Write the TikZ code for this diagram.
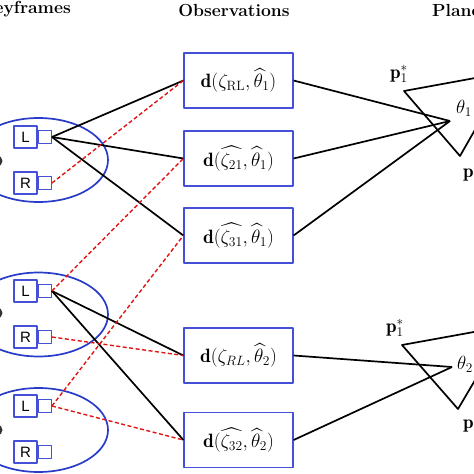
\documentclass[tikz,border=0pt]{standalone}
\usepackage{fix-cm}
\usepackage{amsmath}
\usepackage{fontspec}
\newfontfamily\camfont{Liberation Sans}
\usetikzlibrary{shapes.geometric,positioning}

\definecolor{kfblue}{RGB}{40,60,200}
\definecolor{boxblue}{RGB}{70,80,215}
\definecolor{matchred}{RGB}{225,20,20}

\begin{document}
\begin{tikzpicture}[x=1pt, y=-1pt, line join=round,
    head/.style={font=\fontsize{17.5}{20}\selectfont\bfseries, inner sep=0pt},
    kf/.style={draw=kfblue, line width=1.7pt, ellipse, minimum width=139pt, minimum height=84pt, inner sep=0pt},
    cam/.style={draw=boxblue, line width=1.3pt, minimum width=23pt, minimum height=22pt, inner sep=0pt, font=\camfont\fontsize{15}{15}\selectfont},
    lens/.style={draw=boxblue, line width=1.3pt, minimum width=13pt, minimum height=13pt, inner sep=0pt},
    obs/.style={draw=boxblue, line width=1.2pt, minimum width=109pt, minimum height=55pt, inner sep=0pt, font=\fontsize{19.3}{22}\selectfont},
    lbl/.style={inner sep=0pt, font=\fontsize{19}{22}\selectfont},
    link/.style={line width=1.7pt},
    match/.style={draw=matchred, line width=1.4pt, dash pattern=on 4pt off 2.5pt}]
  \useasboundingbox (0,0) rectangle (474,474);
  \clip (0,0) rectangle (474,474);

  % column titles
  \node[head, anchor=base east] (hkf) at (71,13) {Keyframes};
  \node[head, anchor=base] (hobs) at (234,16) {Observations};
  \node[head, anchor=base west] (hpl) at (432,16) {Planes};

  % keyframes with stereo cameras
  \node[kf] (kf1) at (38.5,160) {};
  \node[kf] (kf2) at (38.5,314.5) {};
  \node[kf] (kf3) at (38.5,430) {};
  \fill[black!80] (-3,161) circle (5.5);
  \fill[black!80] (-3,313) circle (5.5);
  \fill[black!80] (-3,430) circle (5.5);

  \node[cam] (cl1) at (25.5,137) {L};
  \node[lens, right=0pt of cl1] (ll1) {};
  \node[cam] (cr1) at (25.5,183) {R};
  \node[lens, right=0pt of cr1] (lr1) {};
  \node[cam] (cl2) at (25.5,291) {L};
  \node[lens, right=0pt of cl2] (ll2) {};
  \node[cam] (cr2) at (25.5,337) {R};
  \node[lens, right=0pt of cr2] (lr2) {};
  \node[cam] (cl3) at (25.5,406) {L};
  \node[lens, right=0pt of cl3] (ll3) {};
  \node[cam] (cr3) at (25.5,452) {R};
  \node[lens, right=0pt of cr3] (lr3) {};

  % observations
  \node[obs] (obs1) at (238.5,80.5) {$\mathbf{d}(\zeta_{\mathrm{RL}},\widehat{\theta}_1)$};
  \node[obs] (obs2) at (238.5,158.5) {$\mathbf{d}(\widehat{\zeta_{21}},\widehat{\theta}_1)$};
  \node[obs] (obs3) at (238.5,235.5) {$\mathbf{d}(\widehat{\zeta_{31}},\widehat{\theta}_1)$};
  \node[obs] (obs4) at (238.5,355.5) {$\mathbf{d}(\zeta_{RL},\widehat{\theta}_2)$};
  \node[obs] (obs5) at (238.5,440) {$\mathbf{d}(\widehat{\zeta_{32}},\widehat{\theta}_2)$};

  % planes
  \coordinate (th1) at (450,121);
  \coordinate (pa1) at (404,91);
  \coordinate (pb1) at (460,156);
  \coordinate (pc1) at (508,72);
  \draw[link] (pa1) -- (pc1) -- (pb1) -- cycle;
  \node[lbl] (pst1) at (399,74) {$\mathbf{p}_1^*$};
  \node[lbl, anchor=west] (tl1) at (456,108) {$\theta_1$};
  \node[lbl, anchor=base west] (psb1) at (463,177) {$\mathbf{p}_2^*$};

  \coordinate (th2) at (452,367);
  \coordinate (pa2) at (402,345);
  \coordinate (pb2) at (458,409);
  \coordinate (pc2) at (507,326);
  \draw[link] (pa2) -- (pc2) -- (pb2) -- cycle;
  \node[lbl] (pst2) at (395,328) {$\mathbf{p}_1^*$};
  \node[lbl, anchor=west] (tl2) at (457,364) {$\theta_2$};
  \node[lbl, anchor=base west] (psb2) at (463,428) {$\mathbf{p}_2^*$};

  % keyframe -> observation
  \draw[link] (ll1.east) -- (obs1.west);
  \draw[link] (ll1.east) -- (obs2.west);
  \draw[link] (ll1.east) -- (obs3.west);
  \draw[link] (ll2.east) -- (obs4.west);
  \draw[link] (ll2.east) -- (obs5.west);
  \draw[match] (lr1.east) -- (obs1.west);
  \draw[match] (ll2.east) -- (obs2.west);
  \draw[match] (ll3.east) -- (obs3.west);
  \draw[match] (lr2.east) -- (obs4.west);
  \draw[match] (ll3.east) -- (obs5.west);

  % observation -> plane
  \draw[link] (obs1.east) -- (th1);
  \draw[link] (obs2.east) -- (th1);
  \draw[link] (obs3.east) -- (th1);
  \draw[link] (obs4.east) -- (th2);
  \draw[link] (obs5.east) -- (th2);
\end{tikzpicture}
\end{document}
